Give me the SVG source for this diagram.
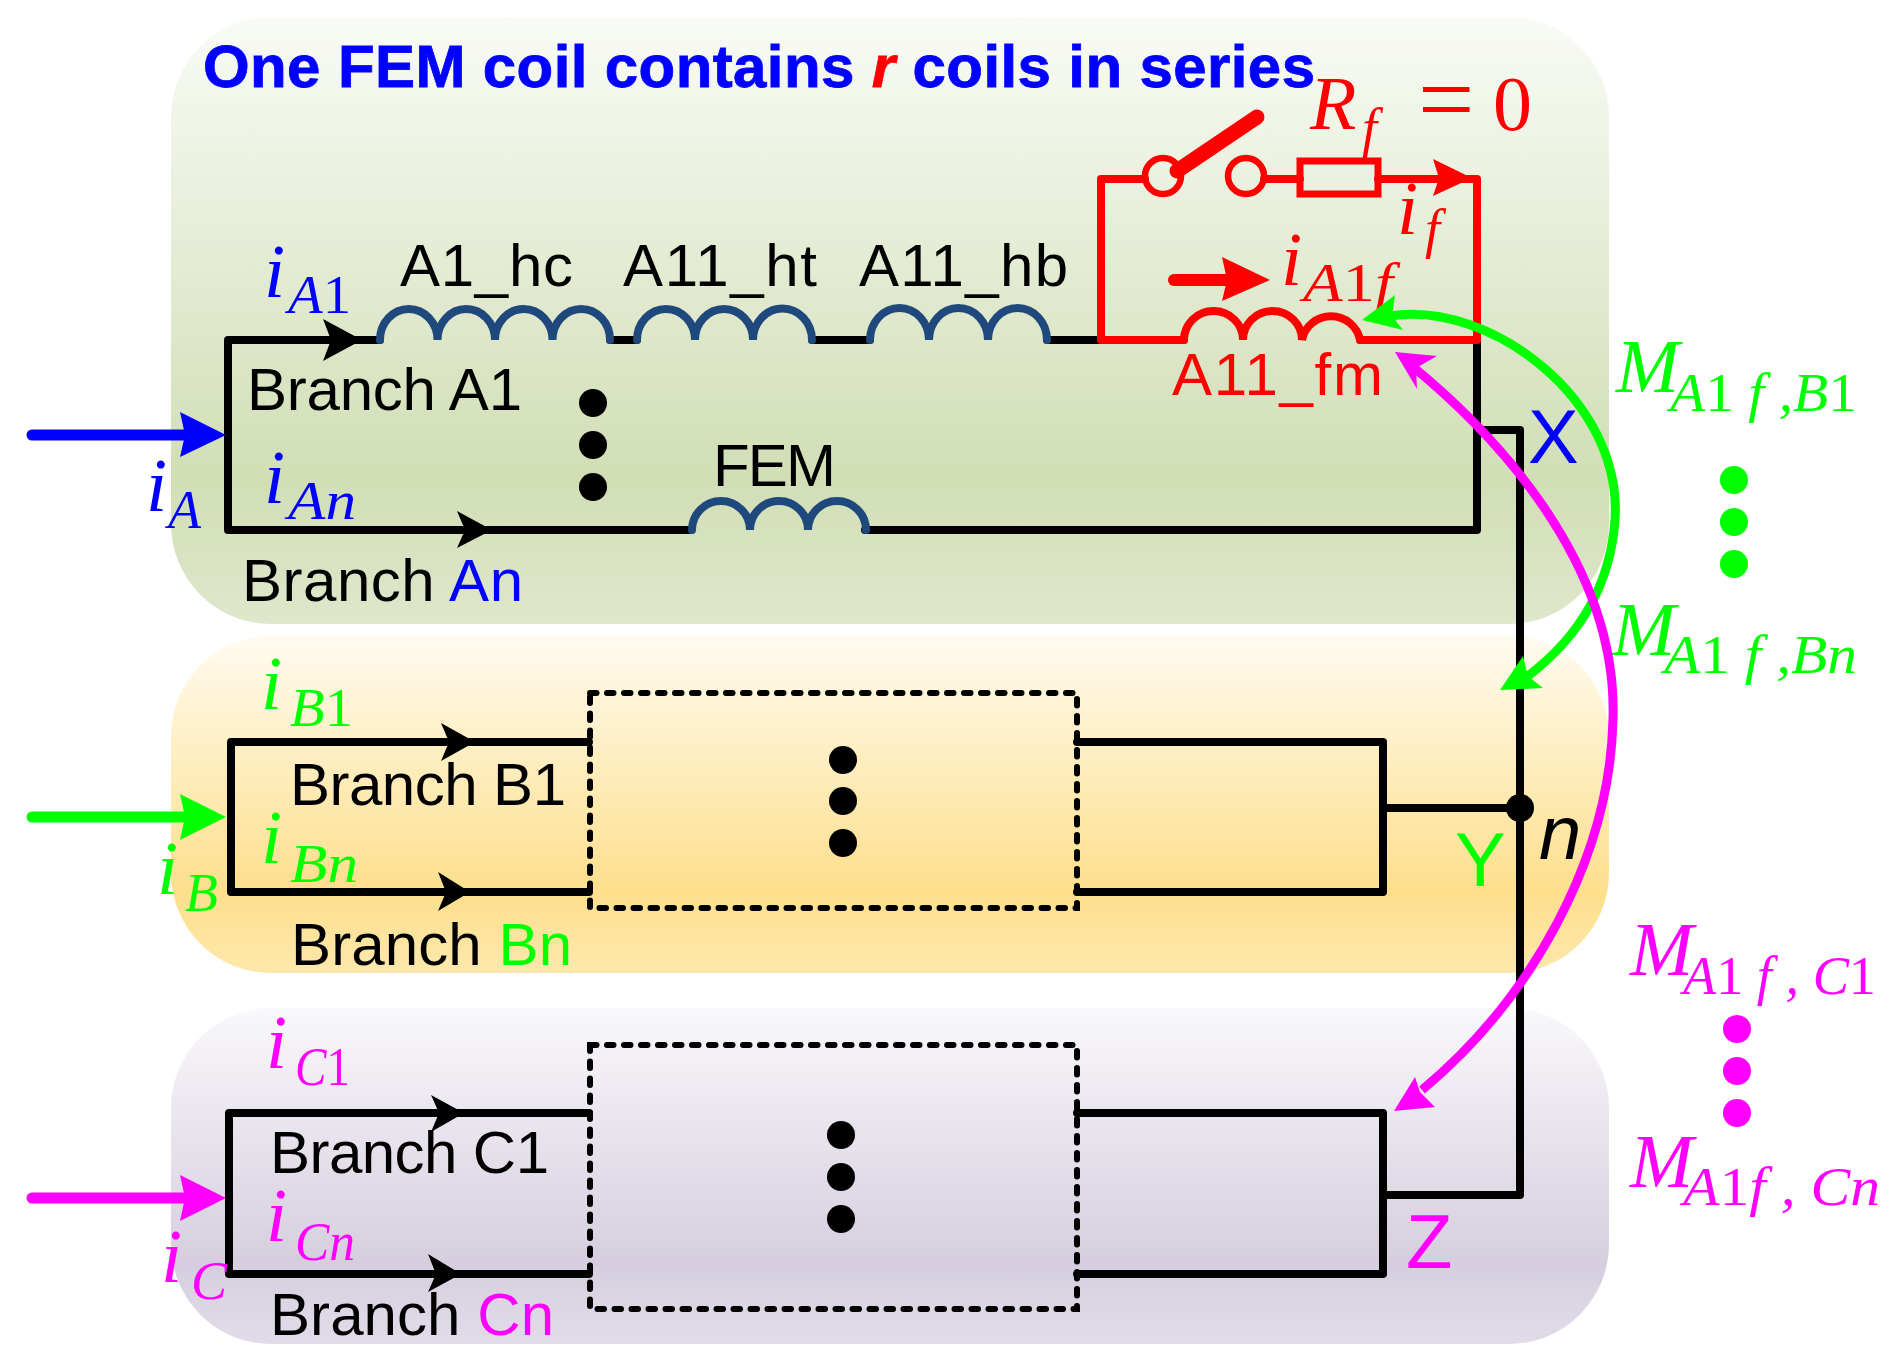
<svg xmlns="http://www.w3.org/2000/svg" width="1899" height="1364" viewBox="0 0 1899 1364">
<defs>
<linearGradient id="ga" x1="0" y1="0" x2="0" y2="1"><stop offset="0" stop-color="#f9fbf6"/><stop offset=".76" stop-color="#d1deb5"/><stop offset="1" stop-color="#dfe7cc"/></linearGradient>
<linearGradient id="gb" x1="0" y1="0" x2="0" y2="1"><stop offset="0" stop-color="#fffbf0"/><stop offset=".76" stop-color="#fddf8c"/><stop offset="1" stop-color="#fde8ac"/></linearGradient>
<linearGradient id="gc" x1="0" y1="0" x2="0" y2="1"><stop offset="0" stop-color="#f9f8fb"/><stop offset=".76" stop-color="#d6cede"/><stop offset="1" stop-color="#e2dcea"/></linearGradient>
</defs>
<style>
.w{fill:none;stroke:#000;stroke-width:8;stroke-linecap:round;stroke-linejoin:round}
.r{fill:none;stroke:#f00;stroke-width:8;stroke-linecap:round;stroke-linejoin:round}
.coil{fill:none;stroke:#1f497d;stroke-width:8;stroke-linecap:round}
.rc{fill:none;stroke:#f00;stroke-width:8;stroke-linecap:round}
.d{fill:none;stroke:#000;stroke-width:6;stroke-dasharray:6.500 10.500;stroke-linecap:round}
.s{fill:none;stroke-width:11;stroke-linecap:round}
text{font-family:"Liberation Sans",Arial,sans-serif;font-size:60px;fill:#000}
.big{font-size:76px}
.t{font-size:60px;font-weight:700;fill:#00f;stroke:#00f;stroke-width:.8}
.m{font-family:"Liberation Serif","Times New Roman",serif;font-style:italic;font-size:76px}
.u{font-family:"Liberation Serif","Times New Roman",serif;font-style:italic;font-size:54px}
.n{font-style:normal}
.B{fill:#00f}.G{fill:#0f0}.M{fill:#f0f}.R{fill:#f00}
</style>

<g id="panel-a"><rect x="171" y="17" width="1438" height="607" rx="100" fill="url(#ga)"/></g>
<g id="panel-b"><rect x="171" y="636" width="1438" height="337" rx="100" fill="url(#gb)"/></g>
<g id="panel-c"><rect x="171" y="1008" width="1438" height="336" rx="100" fill="url(#gc)"/></g>

<g id="title"><text class="t" x="203" y="87" textLength="1112">One FEM coil contains <tspan fill="#f00" stroke="#f00" font-style="italic">r</tspan> coils in series</text></g>

<g id="connectors">
<path class="w" d="M380,340H228V530H691M865,530H1477V336"/>
<path class="w" d="M610,340H637M812,340H870M1047,340H1101"/>
<path class="w" d="M1477,430H1520V1195H1383"/>
<path class="w" d="M589,742H231V892H589"/>
<path class="w" d="M1077,742H1383V892H1077"/>
<path class="w" d="M1383,808H1520"/>
<path class="w" d="M589,1113H229V1274H589"/>
<path class="w" d="M1077,1113H1383V1274H1077"/>
<path d="M323,319L362,340L323,361L331,340Z"/>
<path d="M457,511L492,530L457,548L465,530Z"/>
<path d="M441,723L475,742L441,761L449,742Z"/>
<path d="M438,872L470,892L438,911L446,892Z"/>
<path d="M431,1095L464,1113L431,1132L439,1113Z"/>
<path d="M428,1254L461,1274L428,1292L436,1274Z"/>
<path class="s" stroke="#00f" d="M32,435H190"/><path class="B" d="M180,412L226,435L180,457L185,435Z"/>
<path class="s" stroke="#0f0" d="M32,817H190"/><path class="G" d="M180,794L226,817L180,840L185,817Z"/>
<path class="s" stroke="#f0f" d="M32,1198H190"/><path class="M" d="M180,1175L226,1198L180,1221L185,1198Z"/>
</g>

<g id="coil-a1-hc"><path class="coil" d="M380,340a28.750,31 0 0 1 57.500,0a28.750,31 0 0 1 57.500,0a28.750,31 0 0 1 57.500,0a28.750,31 0 0 1 57.500,0"/><text x="400" y="286" textLength="173">A1_hc</text></g>
<g id="coil-a11-ht"><path class="coil" d="M637,340a29,31 0 0 1 58,0a29,31 0 0 1 58,0a29,31 0 0 1 59,0"/><text x="623" y="286" textLength="194">A11_ht</text></g>
<g id="coil-a11-hb"><path class="coil" d="M870,340a29.500,32 0 0 1 59,0a29.500,32 0 0 1 59,0a29.500,32 0 0 1 59,0"/><text x="859" y="286" textLength="209">A11_hb</text></g>
<g id="coil-fem"><path class="coil" d="M692,530a29,29 0 0 1 58,0a29,29 0 0 1 58,0a29,29 0 0 1 58,0"/><text x="713" y="486" textLength="123">FEM</text></g>

<g id="fault-branch">
<path class="r" d="M1145,179H1101V340H1184M1360,340H1477V179H1378M1300,179H1264"/>
<circle cx="1163" cy="176" r="18" fill="none" stroke="#f00" stroke-width="6.500"/>
<circle cx="1246" cy="176" r="18" fill="none" stroke="#f00" stroke-width="6.500"/>
<path d="M1177,171L1257,117" fill="none" stroke="#f00" stroke-width="15" stroke-linecap="round"/>
<rect x="1300" y="161" width="78" height="33" fill="none" stroke="#f00" stroke-width="7"/>
<path class="R" d="M1433,159L1472,178L1433,196L1439,178Z"/>
<path class="rc" d="M1184,340a29.500,29 0 0 1 59,0a29.500,29 0 0 1 59,0a29.500,29 0 0 1 58,0"/>
<path d="M1174,280H1230" fill="none" stroke="#f00" stroke-width="12" stroke-linecap="round"/>
<path class="R" d="M1222,257L1270,280L1222,301L1227,280Z"/>
<text class="R" x="1172" y="395" textLength="211">A11_fm</text>
</g>

<g id="dashed-b"><rect class="d" x="590" y="693" width="487" height="215"/></g>
<g id="dashed-c"><rect class="d" x="590" y="1045" width="487" height="264"/></g>

<g id="dots">
<ellipse cx="593" cy="403" rx="14" ry="14"/><ellipse cx="593" cy="445" rx="14" ry="14"/><ellipse cx="593" cy="487" rx="14" ry="14"/>
<ellipse cx="843" cy="760" rx="14" ry="14"/><ellipse cx="843" cy="801" rx="14" ry="14"/><ellipse cx="843" cy="843" rx="14" ry="14"/>
<ellipse cx="841" cy="1135" rx="14" ry="14"/><ellipse cx="841" cy="1177" rx="14" ry="14"/><ellipse cx="841" cy="1219" rx="14" ry="14"/>
<ellipse class="G" cx="1734" cy="480" rx="14" ry="14"/><ellipse class="G" cx="1734" cy="522" rx="14" ry="14"/><ellipse class="G" cx="1734" cy="564" rx="14" ry="14"/>
<ellipse class="M" cx="1737" cy="1029" rx="14" ry="14"/><ellipse class="M" cx="1737" cy="1071" rx="14" ry="14"/><ellipse class="M" cx="1737" cy="1113" rx="14" ry="14"/>
</g>

<g id="node-n"><ellipse cx="1520" cy="808" rx="14" ry="14"/><text class="big" font-style="italic" x="1539" y="859">n</text></g>

<g id="labels">
<text x="247" y="410" textLength="275">Branch A1</text>
<text x="242" y="601" textLength="281">Branch <tspan class="B">An</tspan></text>
<text x="290" y="805" textLength="276">Branch B1</text>
<text x="291" y="965" textLength="281">Branch <tspan class="G">Bn</tspan></text>
<text x="270" y="1173" textLength="279">Branch C1</text>
<text x="270" y="1335" textLength="284">Branch <tspan class="M">Cn</tspan></text>
<text class="big B" x="1528" y="463">X</text>
<text class="big G" x="1455" y="886">Y</text>
<text class="big M" x="1406" y="1268">Z</text>

<text class="m B" x="264" y="297">i</text><text class="u B" x="288" y="313" textLength="63" lengthAdjust="spacingAndGlyphs">A<tspan class="n">1</tspan></text>
<text class="m B" x="264" y="503">i</text><text class="u B" x="288" y="519" textLength="68" lengthAdjust="spacingAndGlyphs">An</text>
<text class="m B" x="146" y="511">i</text><text class="u B" x="168" y="528">A</text>
<text class="m G" x="261" y="709">i</text><text class="u G" x="290" y="726" textLength="63" lengthAdjust="spacingAndGlyphs">B<tspan class="n">1</tspan></text>
<text class="m G" x="261" y="863">i</text><text class="u G" x="290" y="882" textLength="68" lengthAdjust="spacingAndGlyphs">Bn</text>
<text class="m G" x="157" y="894">i</text><text class="u G" x="185" y="911">B</text>
<text class="m M" x="266" y="1068">i</text><text class="u M" x="295" y="1085" textLength="55" lengthAdjust="spacingAndGlyphs">C<tspan class="n">1</tspan></text>
<text class="m M" x="266" y="1241">i</text><text class="u M" x="295" y="1260" textLength="60" lengthAdjust="spacingAndGlyphs">Cn</text>
<text class="m M" x="161" y="1282">i</text><text class="u M" x="191" y="1299">C</text>

<text class="m R" x="1310" y="129">R<tspan class="u" x="1362" y="146">f</tspan></text>
<text class="m R n" x="1418" y="133" style="font-size:100px">=</text><text class="m R n" x="1493" y="130" style="font-size:78px">0</text>
<text class="m R" x="1397" y="234">i</text><text class="u R" x="1425" y="247">f</text>
<text class="m R" x="1281" y="285">i</text><text class="u R" x="1303" y="301" textLength="90" lengthAdjust="spacingAndGlyphs">A<tspan class="n">1</tspan>f</text>

<text class="m G" x="1616" y="392">M<tspan class="u" x="1670" y="411" textLength="187" lengthAdjust="spacingAndGlyphs">A<tspan class="n">1</tspan> f ,B<tspan class="n">1</tspan></tspan></text>
<text class="m G" x="1612" y="655">M<tspan class="u" x="1664" y="673" textLength="193" lengthAdjust="spacingAndGlyphs">A<tspan class="n">1</tspan> f ,Bn</tspan></text>
<text class="m M" x="1630" y="975">M<tspan class="u" x="1683" y="994" textLength="193" lengthAdjust="spacingAndGlyphs">A<tspan class="n">1</tspan> f , C<tspan class="n">1</tspan></tspan></text>
<text class="m M" x="1630" y="1187">M<tspan class="u" x="1683" y="1205" textLength="197" lengthAdjust="spacingAndGlyphs">A<tspan class="n">1</tspan>f , Cn</tspan></text>
</g>

<g id="mutual">
<path d="M1390,316C1490,300 1623,400 1615,520C1610,590 1575,640 1528,676" fill="none" stroke="#0f0" stroke-width="9"/>
<path class="G" d="M1362,320L1395,295L1392,316L1403,330Z"/>
<path class="G" d="M1500,690L1523,656L1528,676L1543,688Z"/>
<path d="M1412,366C1490,430 1618,560 1613,719C1610,860 1530,1000 1422,1090" fill="none" stroke="#f0f" stroke-width="9"/>
<path class="M" d="M1395,352L1437,356L1416,368L1417,389Z"/>
<path class="M" d="M1394,1111L1415,1077L1420,1092L1435,1107Z"/>
</g>
</svg>
